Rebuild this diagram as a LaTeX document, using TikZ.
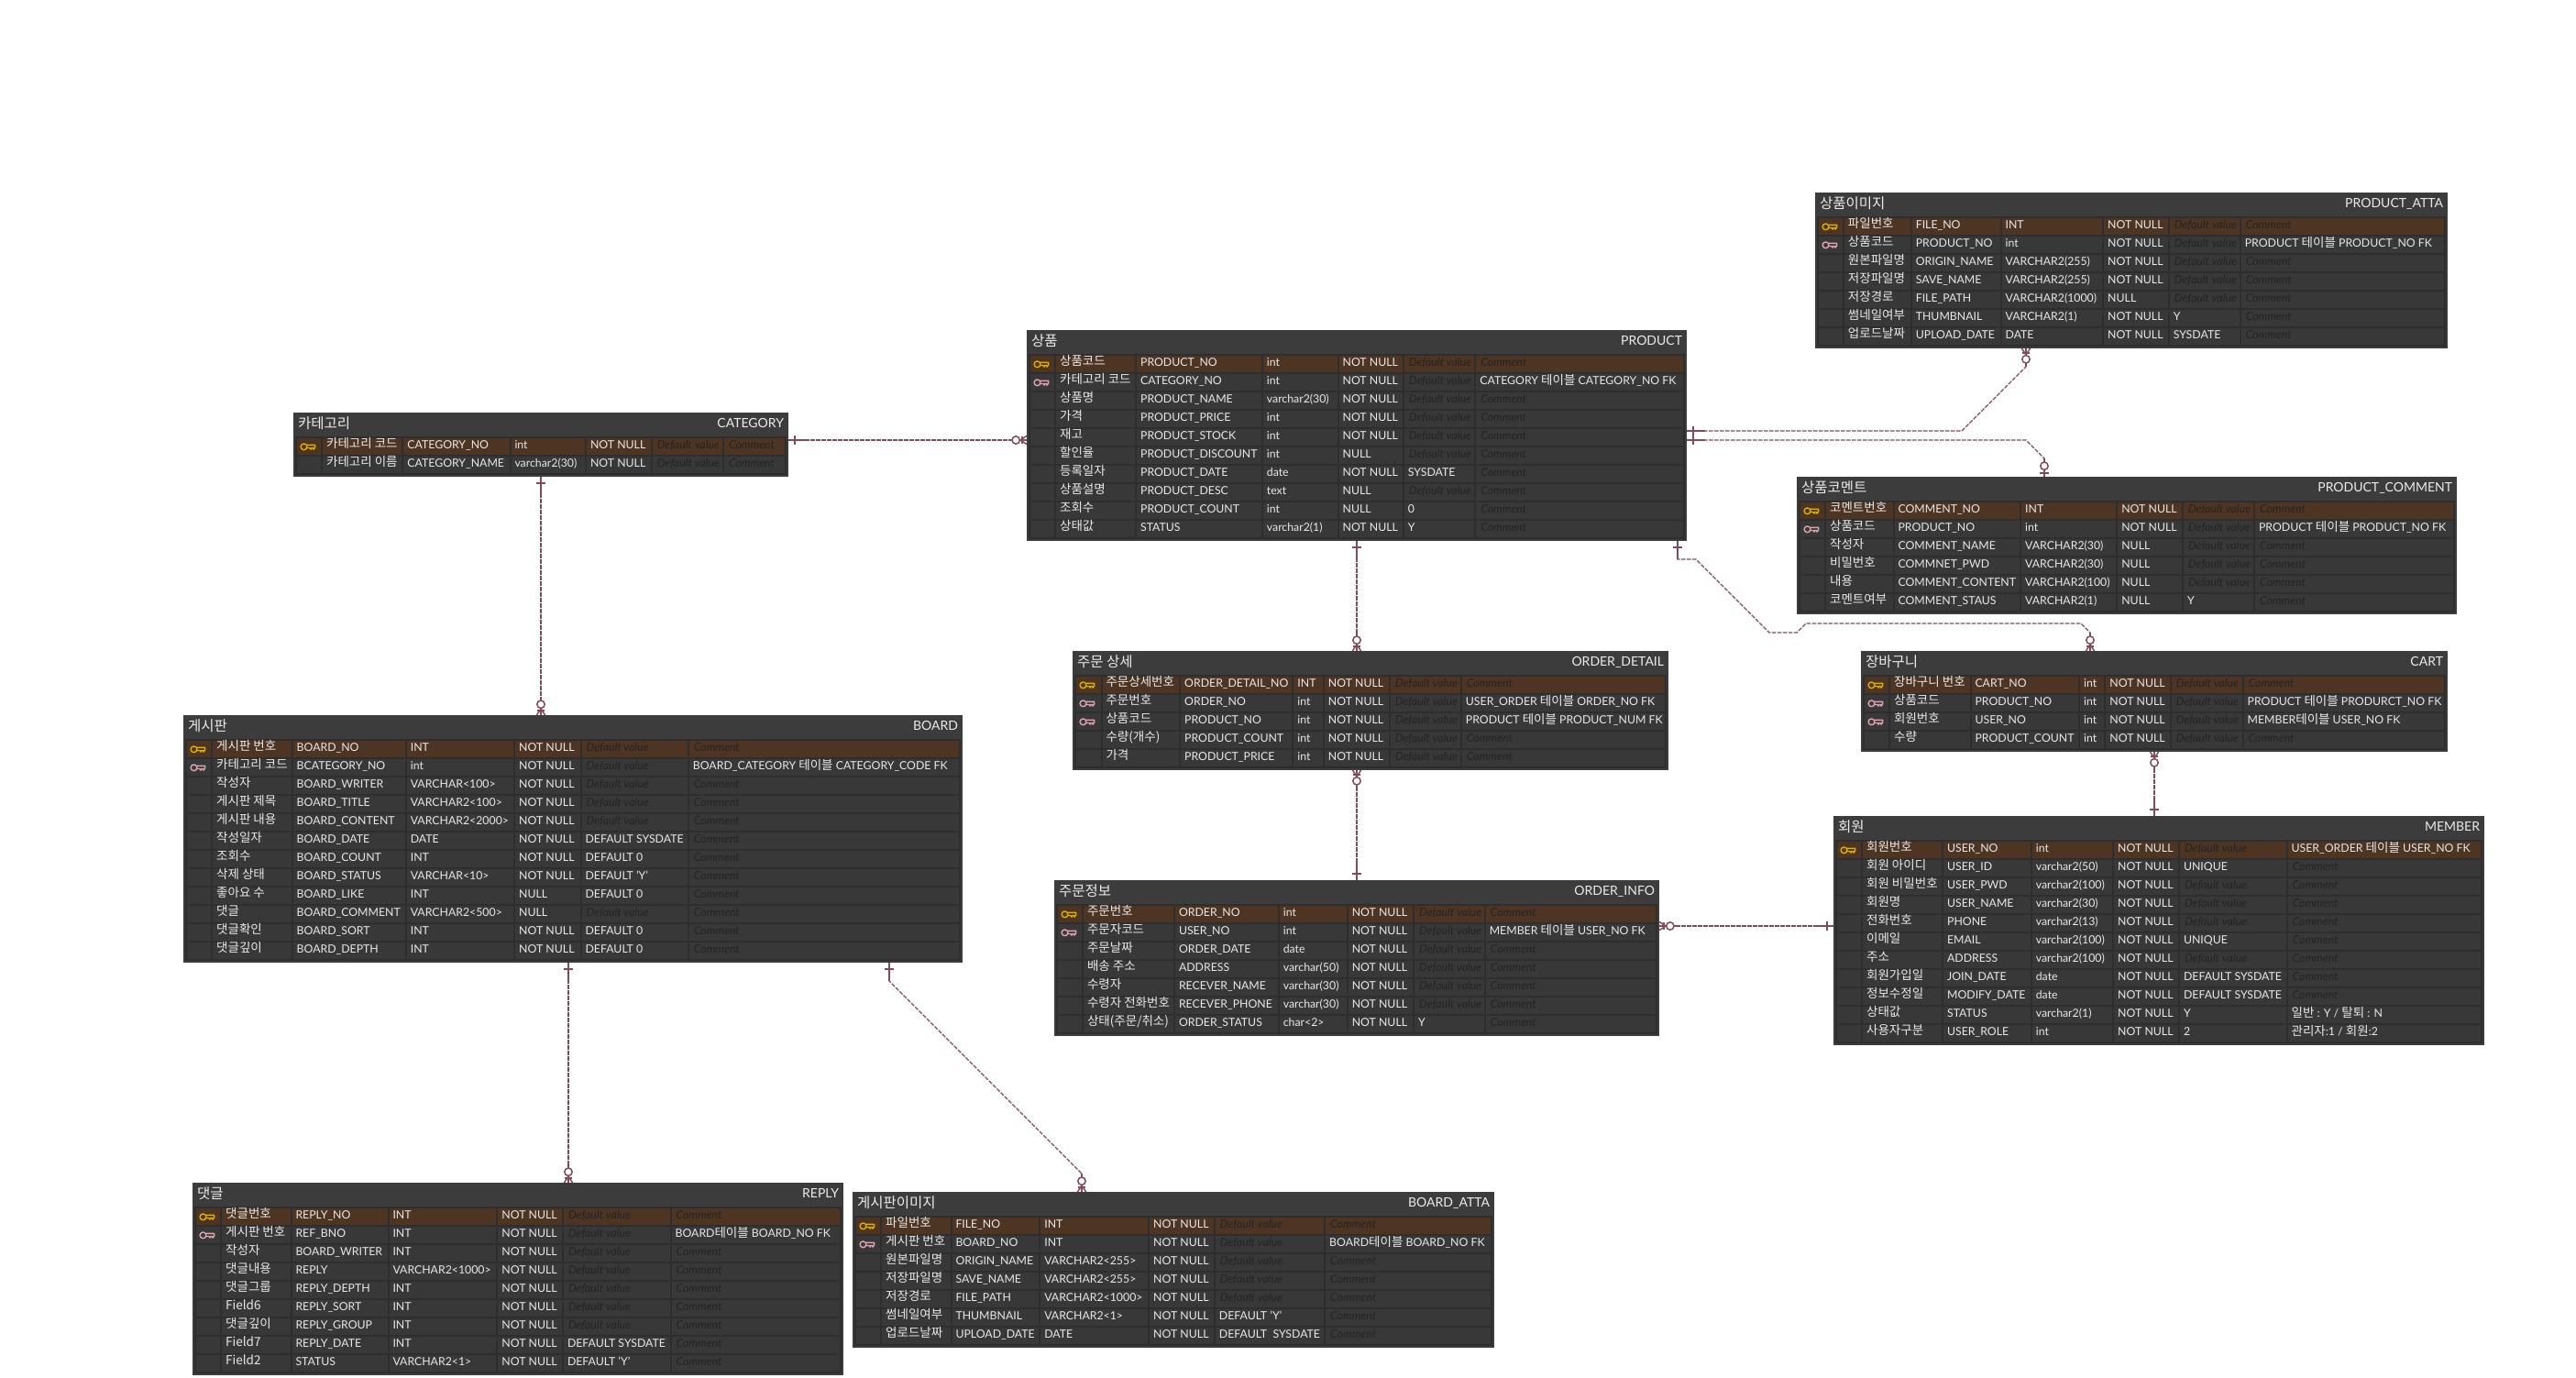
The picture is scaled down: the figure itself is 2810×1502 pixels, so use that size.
\documentclass[tikz,border=0pt]{standalone}
\usepackage{fontspec}
\setmainfont{Lato}
\newfontfamily\krf{Noto Sans CJK KR}
\newcommand\K[1]{{\krf\fontsize{13.5}{15}\selectfont #1}}
\definecolor{erOuter}{HTML}{3C3C3C}
\definecolor{erFrame}{HTML}{2E2E2E}
\definecolor{erCell}{HTML}{383838}
\definecolor{erPk}{HTML}{4E3422}
\definecolor{erText}{HTML}{E8E8E8}
\definecolor{erDim}{HTML}{242424}
\definecolor{erLink}{HTML}{84495A}
\definecolor{erGold}{HTML}{DDB000}
\definecolor{erPink}{HTML}{DDA4AE}
\tikzset{
  tablebox/.style={rectangle,fill=erOuter,inner sep=0pt,outer sep=0pt,anchor=north west},
  celltxt/.style={anchor=base west,inner sep=0pt,outer sep=0pt,text=erText,font=\fontsize{12.3}{15}\selectfont},
  kotxt/.style={celltxt,font=\krf\fontsize{13.5}{15}\selectfont},
  dimtxt/.style={celltxt,text=erDim,font=\itshape\fontsize{12.3}{15}\selectfont},
  titleko/.style={anchor=base west,inner sep=0pt,outer sep=0pt,text=white!92!black,font=\krf\fontsize{15.5}{17}\selectfont},
  titleen/.style={anchor=base east,inner sep=0pt,outer sep=0pt,text=white!92!black,font=\fontsize{14}{16}\selectfont},
  rel/.style={draw=erLink,line width=1.25pt,dash pattern=on 4.5pt off 1.5pt,line join=miter},
  relsolid/.style={draw=erLink,line width=1.5pt},
}
\newcount\errow
\def\erparse#1,#2,#3,#4,#5,#6\relax{\def\erA{#1}\def\erB{#2}\def\erC{#3}\def\erD{#4}\def\erE{#5}\def\erF{#6}}
\newcommand\ertbl[8]{%
  \def\erid{#1}\def\erXa{#2}\def\erYa{#3}\def\erXb{#4}\errow=0
  \erparse#8\relax
  \pgfmathsetmacro\erW{#4-#2}\pgfmathsetmacro\erH{30+20*#5}%
  \pgfmathsetmacro\erIn{26+20*#5+2}%
  \node[tablebox,minimum width=\erW pt,minimum height=\erH pt] (#1) at (#2,#3) {};
  \fill[erFrame] ($(#1.north west)+(2,26)$) rectangle ($(#1.north east)+(-2,26+\erIn-26)$);
  \node[titleko] (#1-ko) at ($(#1.north west)+(5,17)$) {#6};
  \node[titleen] (#1-en) at ($(#1.north east)+(-5,16.5)$) {#7};
}
\newcommand\erkey[3]{%
  \begin{scope}[shift={(#2,#3)}]
    \draw[#1,line width=1.4pt,line join=round] (3.5,0) circle (3.4);
    \draw[#1,line width=1.4pt,line join=round] (6.8,-2)--(15.6,-2)--(15.6,0.8)--(14,2.8)--(13.4,1.2)--(11.8,1.2)--(11.2,2.8)--(9.8,1.2)--(6.9,1.2);
  \end{scope}%
}
\newcommand\ercell[3]{\fill[#1] (#2,\erY) rectangle (#3,\erY+18.3);}
\newcommand\ertrow[7]{%
  \pgfmathsetmacro\erY{\erYa+27.7+20*\the\errow}%
  \pgfmathsetmacro\erYb{\erY+11.4}\pgfmathsetmacro\erYk{\erY+10.8}\pgfmathsetmacro\erYc{\erY+9.6}%
  \if#1P\def\ercol{erPk}\else\def\ercol{erCell}\fi
  \pgfmathsetmacro\erAa{\erA-2}\pgfmathsetmacro\erBa{\erB-2}\pgfmathsetmacro\erCa{\erC-2}%
  \pgfmathsetmacro\erDa{\erD-2}\pgfmathsetmacro\erEa{\erE-2}\pgfmathsetmacro\erFa{\erF-2}%
  \ercell{\ercol}{\erXa+3.7}{\erAa}\ercell{\ercol}{\erA}{\erBa}\ercell{\ercol}{\erB}{\erCa}%
  \ercell{\ercol}{\erC}{\erDa}\ercell{\ercol}{\erD}{\erEa}\ercell{\ercol}{\erE}{\erFa}%
  \ercell{\ercol}{\erF}{\erXb-3.7}%
  \pgfmathsetmacro\erKx{\erXa+8}%
  \if#1P\erkey{erGold}{\erKx}{\erYc}\fi
  \if#1F\erkey{erPink}{\erKx}{\erYc}\fi
  \node[kotxt] (\erid-\the\errow-a) at (\erA+4,\erYk) {#2};
  \node[celltxt] (\erid-\the\errow-b) at (\erB+4,\erYb) {#3};
  \node[celltxt] (\erid-\the\errow-c) at (\erC+4,\erYb) {#4};
  \node[celltxt] (\erid-\the\errow-d) at (\erD+4,\erYb) {#5};
  \def\ertmp{#6}%
  \ifx\ertmp\empty\node[dimtxt] (\erid-\the\errow-e) at (\erE+5,\erYb) {Default value};
  \else\node[celltxt] (\erid-\the\errow-e) at (\erE+4,\erYb) {#6};\fi
  \def\ertmp{#7}%
  \ifx\ertmp\empty\node[dimtxt] (\erid-\the\errow-f) at (\erF+5,\erYb) {Comment};
  \else\node[celltxt] (\erid-\the\errow-f) at (\erF+4,\erYb) {#7};\fi
  \global\advance\errow by 1\relax
}
% end marks: x axis runs away from the table
\newcommand\markone[2]{%
  \begin{scope}[shift={#1},rotate=#2]
    \draw[relsolid] (0,0)--(20,0);\draw[relsolid] (7,-5)--(7,5);
  \end{scope}%
}
\newcommand\markmany[2]{%
  \begin{scope}[shift={#1},rotate=#2]
    \draw[relsolid] (0,0)--(20,0);
    \draw[relsolid] (0,-4.6)--(7,0)--(0,4.6);\draw[relsolid] (5,-4)--(5,4);
    \draw[relsolid,fill=white] (11.8,0) circle (4.2);
  \end{scope}%
}
\newcommand\markzone[2]{%
  \begin{scope}[shift={#1},rotate=#2]
    \draw[relsolid] (0,0)--(20,0);\draw[relsolid] (4,-5)--(4,5);
    \draw[relsolid,fill=white] (11.8,0) circle (4.2);
  \end{scope}%
}
\usetikzlibrary{calc}
\begin{document}
\begin{tikzpicture}[x=1pt,y=-1pt]
\useasboundingbox[fill=white] (0,0) rectangle (2810,1502);

\ertbl{ATTA}{1980}{210}{2670}{7}{상품이미지}{PRODUCT\_ATTA}{2011.9,2085.8,2183.6,2295.2,2366.8,2444.8}
\ertrow{P}{파일번호}{FILE\_NO}{INT}{NOT NULL}{}{}
\ertrow{F}{상품코드}{PRODUCT\_NO}{int}{NOT NULL}{}{PRODUCT \K{테이블} PRODUCT\_NO FK}
\ertrow{N}{원본파일명}{ORIGIN\_NAME}{VARCHAR2(255)}{NOT NULL}{}{}
\ertrow{N}{저장파일명}{SAVE\_NAME}{VARCHAR2(255)}{NOT NULL}{}{}
\ertrow{N}{저장경로}{FILE\_PATH}{VARCHAR2(1000)}{NULL}{}{}
\ertrow{N}{썸네일여부}{THUMBNAIL}{VARCHAR2(1)}{NOT NULL}{Y}{}
\ertrow{N}{업로드날짜}{UPLOAD\_DATE}{DATE}{NOT NULL}{SYSDATE}{}

\ertbl{PRODUCT}{1120}{360}{1840}{10}{상품}{PRODUCT}{1152.1,1240.1,1377.9,1460.6,1531.9,1610.3}
\ertrow{P}{상품코드}{PRODUCT\_NO}{int}{NOT NULL}{}{}
\ertrow{F}{카테고리 코드}{CATEGORY\_NO}{int}{NOT NULL}{}{CATEGORY \K{테이블} CATEGORY\_NO FK}
\ertrow{N}{상품명}{PRODUCT\_NAME}{varchar2(30)}{NOT NULL}{}{}
\ertrow{N}{가격}{PRODUCT\_PRICE}{int}{NOT NULL}{}{}
\ertrow{N}{재고}{PRODUCT\_STOCK}{int}{NOT NULL}{}{}
\ertrow{N}{할인율}{PRODUCT\_DISCOUNT}{int}{NULL}{}{}
\ertrow{N}{등록일자}{PRODUCT\_DATE}{date}{NOT NULL}{SYSDATE}{}
\ertrow{N}{상품설명}{PRODUCT\_DESC}{text}{NULL}{}{}
\ertrow{N}{조회수}{PRODUCT\_COUNT}{int}{NULL}{0}{}
\ertrow{N}{상태값}{STATUS}{varchar2(1)}{NOT NULL}{Y}{}

\ertbl{CATEGORY}{320}{450}{860}{2}{카테고리}{CATEGORY}{352.1,440.4,557.5,640,711.8,790}
\ertrow{P}{카테고리 코드}{CATEGORY\_NO}{int}{NOT NULL}{}{}
\ertrow{N}{카테고리 이름}{CATEGORY\_NAME}{varchar2(30)}{NOT NULL}{}{}

\ertbl{COMMENT}{1960}{520}{2680}{6}{상품코멘트}{PRODUCT\_COMMENT}{1992.1,2066.5,2205.2,2310.3,2382,2460}
\ertrow{P}{코멘트번호}{COMMENT\_NO}{INT}{NOT NULL}{}{}
\ertrow{F}{상품코드}{PRODUCT\_NO}{int}{NOT NULL}{}{PRODUCT \K{테이블} PRODUCT\_NO FK}
\ertrow{N}{작성자}{COMMENT\_NAME}{VARCHAR2(30)}{NULL}{}{}
\ertrow{N}{비밀번호}{COMMNET\_PWD}{VARCHAR2(30)}{NULL}{}{}
\ertrow{N}{내용}{COMMENT\_CONTENT}{VARCHAR2(100)}{NULL}{}{}
\ertrow{N}{코멘트여부}{COMMENT\_STAUS}{VARCHAR2(1)}{NULL}{Y}{}

\ertbl{DETAIL}{1170}{710}{1820}{5}{주문 상세}{ORDER\_DETAIL}{1202.5,1288.2,1411.4,1444.9,1516.8,1594.9}
\ertrow{P}{주문상세번호}{ORDER\_DETAIL\_NO}{INT}{NOT NULL}{}{}
\ertrow{F}{주문번호}{ORDER\_NO}{int}{NOT NULL}{}{USER\_ORDER \K{테이블} ORDER\_NO FK}
\ertrow{F}{상품코드}{PRODUCT\_NO}{int}{NOT NULL}{}{PRODUCT \K{테이블} PRODUCT\_NUM FK}
\ertrow{N}{수량(개수)}{PRODUCT\_COUNT}{int}{NOT NULL}{}{}
\ertrow{N}{가격}{PRODUCT\_PRICE}{int}{NOT NULL}{}{}

\ertbl{CART}{2030}{710}{2670}{4}{장바구니}{CART}{2062.1,2150.5,2269.2,2297.4,2368.9,2447.6}
\ertrow{P}{장바구니 번호}{CART\_NO}{int}{NOT NULL}{}{}
\ertrow{F}{상품코드}{PRODUCT\_NO}{int}{NOT NULL}{}{PRODUCT \K{테이블} PRODURCT\_NO FK}
\ertrow{F}{회원번호}{USER\_NO}{int}{NOT NULL}{}{MEMBER\K{테이블} USER\_NO FK}
\ertrow{N}{수량}{PRODUCT\_COUNT}{int}{NOT NULL}{}{}

\ertbl{BOARD}{200}{780}{1050}{12}{게시판}{BOARD}{232.2,319.7,443.8,562.2,634.6,751.9}
\ertrow{P}{게시판 번호}{BOARD\_NO}{INT}{NOT NULL}{}{}
\ertrow{F}{카테고리 코드}{BCATEGORY\_NO}{int}{NOT NULL}{}{BOARD\_CATEGORY \K{테이블} CATEGORY\_CODE FK}
\ertrow{N}{작성자}{BOARD\_WRITER}{VARCHAR<100>}{NOT NULL}{}{}
\ertrow{N}{게시판 제목}{BOARD\_TITLE}{VARCHAR2<100>}{NOT NULL}{}{}
\ertrow{N}{게시판 내용}{BOARD\_CONTENT}{VARCHAR2<2000>}{NOT NULL}{}{}
\ertrow{N}{작성일자}{BOARD\_DATE}{DATE}{NOT NULL}{DEFAULT SYSDATE}{}
\ertrow{N}{조회수}{BOARD\_COUNT}{INT}{NOT NULL}{DEFAULT 0}{}
\ertrow{N}{삭제 상태}{BOARD\_STATUS}{VARCHAR<10>}{NOT NULL}{DEFAULT 'Y'}{}
\ertrow{N}{좋아요 수}{BOARD\_LIKE}{INT}{NULL}{DEFAULT 0}{}
\ertrow{N}{댓글}{BOARD\_COMMENT}{VARCHAR2<500>}{NULL}{}{}
\ertrow{N}{댓글확인}{BOARD\_SORT}{INT}{NOT NULL}{DEFAULT 0}{}
\ertrow{N}{댓글깊이}{BOARD\_DEPTH}{INT}{NOT NULL}{DEFAULT 0}{}

\ertbl{MEMBER}{2000}{890}{2710}{11}{회원}{MEMBER}{2032.1,2120.1,2216.8,2306.2,2378,2495.6}
\ertrow{P}{회원번호}{USER\_NO}{int}{NOT NULL}{}{USER\_ORDER \K{테이블} USER\_NO FK}
\ertrow{N}{회원 아이디}{USER\_ID}{varchar2(50)}{NOT NULL}{UNIQUE}{}
\ertrow{N}{회원 비밀번호}{USER\_PWD}{varchar2(100)}{NOT NULL}{}{}
\ertrow{N}{회원명}{USER\_NAME}{varchar2(30)}{NOT NULL}{}{}
\ertrow{N}{전화번호}{PHONE}{varchar2(13)}{NOT NULL}{}{}
\ertrow{N}{이메일}{EMAIL}{varchar2(100)}{NOT NULL}{UNIQUE}{}
\ertrow{N}{주소}{ADDRESS}{varchar2(100)}{NOT NULL}{}{}
\ertrow{N}{회원가입일}{JOIN\_DATE}{date}{NOT NULL}{DEFAULT SYSDATE}{}
\ertrow{N}{정보수정일}{MODIFY\_DATE}{date}{NOT NULL}{DEFAULT SYSDATE}{}
\ertrow{N}{상태값}{STATUS}{varchar2(1)}{NOT NULL}{Y}{\K{일반} : Y / \K{탈퇴} : N}
\ertrow{N}{사용자구분}{USER\_ROLE}{int}{NOT NULL}{2}{\K{관리자}:1 / \K{회원}:2}

\ertbl{ORDER}{1150}{960}{1810}{7}{주문정보}{ORDER\_INFO}{1182,1282,1395.8,1470.8,1543.1,1620.8}
\ertrow{P}{주문번호}{ORDER\_NO}{int}{NOT NULL}{}{}
\ertrow{F}{주문자코드}{USER\_NO}{int}{NOT NULL}{}{MEMBER \K{테이블} USER\_NO FK}
\ertrow{N}{주문날짜}{ORDER\_DATE}{date}{NOT NULL}{}{}
\ertrow{N}{배송 주소}{ADDRESS}{varchar(50)}{NOT NULL}{}{}
\ertrow{N}{수령자}{RECEVER\_NAME}{varchar(30)}{NOT NULL}{}{}
\ertrow{N}{수령자 전화번호}{RECEVER\_PHONE}{varchar(30)}{NOT NULL}{}{}
\ertrow{N}{상태(주문/취소)}{ORDER\_STATUS}{char<2>}{NOT NULL}{Y}{}

\ertbl{REPLY}{210}{1290}{920}{9}{댓글}{REPLY}{242.2,318.5,424.5,543.4,615,732.6}
\ertrow{P}{댓글번호}{REPLY\_NO}{INT}{NOT NULL}{}{}
\ertrow{F}{게시판 번호}{REF\_BNO}{INT}{NOT NULL}{}{BOARD\K{테이블} BOARD\_NO FK}
\ertrow{N}{작성자}{BOARD\_WRITER}{INT}{NOT NULL}{}{}
\ertrow{N}{댓글내용}{REPLY}{VARCHAR2<1000>}{NOT NULL}{}{}
\ertrow{N}{댓글그룹}{REPLY\_DEPTH}{INT}{NOT NULL}{}{}
\ertrow{N}{Field6}{REPLY\_SORT}{INT}{NOT NULL}{}{}
\ertrow{N}{댓글깊이}{REPLY\_GROUP}{INT}{NOT NULL}{}{}
\ertrow{N}{Field7}{REPLY\_DATE}{INT}{NOT NULL}{DEFAULT SYSDATE}{}
\ertrow{N}{Field2}{STATUS}{VARCHAR2<1>}{NOT NULL}{DEFAULT 'Y'}{}

\ertbl{BATTA}{930}{1300}{1630}{7}{게시판이미지}{BOARD\_ATTA}{962.2,1038.5,1135.3,1254.2,1325.9,1446.2}
\ertrow{P}{파일번호}{FILE\_NO}{INT}{NOT NULL}{}{}
\ertrow{F}{게시판 번호}{BOARD\_NO}{INT}{NOT NULL}{}{BOARD\K{테이블} BOARD\_NO FK}
\ertrow{N}{원본파일명}{ORIGIN\_NAME}{VARCHAR2<255>}{NOT NULL}{}{}
\ertrow{N}{저장파일명}{SAVE\_NAME}{VARCHAR2<255>}{NOT NULL}{}{}
\ertrow{N}{저장경로}{FILE\_PATH}{VARCHAR2<1000>}{NOT NULL}{}{}
\ertrow{N}{썸네일여부}{THUMBNAIL}{VARCHAR2<1>}{NOT NULL}{DEFAULT 'Y'}{}
\ertrow{N}{업로드날짜}{UPLOAD\_DATE}{DATE}{NOT NULL}{DEFAULT\ \ SYSDATE}{}

% connectors
\draw[rel] ([yshift=-30pt]CATEGORY.north east) -- ([yshift=-120pt]PRODUCT.north west);
\draw[rel] ([xshift=270pt]CATEGORY.south west) -- ([xshift=390pt]BOARD.north west);
\draw[rel] ([yshift=-110pt]PRODUCT.north east) -- (2140,470) -- (2210,400) -- ([xshift=230pt]ATTA.south west);
\draw[rel] ([yshift=-120pt]PRODUCT.north east) -- (2210,480) -- (2230,500) -- ([xshift=270pt]COMMENT.north west);
\draw[rel] ([xshift=360pt]PRODUCT.south west) -- ([xshift=310pt]DETAIL.north west);
\draw[rel] ([xshift=710pt]PRODUCT.south west) -- ++(0,20) -- (1850,610) -- (1930,690) -- (1960,690) -- (1970,680) -- (2270,680) -- (2280,690) -- ([xshift=250pt]CART.north west);
\draw[rel] ([xshift=310pt]DETAIL.south west) -- ([xshift=330pt]ORDER.north west);
\draw[rel] ([yshift=-50pt]ORDER.north east) -- ([yshift=-120pt]MEMBER.north west);
\draw[rel] ([xshift=320pt]CART.south west) -- ([xshift=350pt]MEMBER.north west);
\draw[rel] ([xshift=420pt]BOARD.south west) -- ([xshift=410pt]REPLY.north west);
\draw[rel] ([xshift=770pt]BOARD.south west) -- ++(0,20) -- (1180,1280) -- ([xshift=250pt]BATTA.north west);
% end marks
\markone{(860,480)}{0}\markmany{(1120,480)}{180}
\markone{(590,520)}{-90}\markmany{(590,780)}{90}
\markone{(1840,470)}{0}\markmany{(2210,380)}{-90}
\markone{(1840,480)}{0}\markzone{(2230,520)}{90}
\markone{(1480,590)}{-90}\markmany{(1480,710)}{90}
\markone{(1830,590)}{-90}\markmany{(2280,710)}{90}
\markmany{(1480,840)}{-90}\markone{(1480,960)}{90}
\markmany{(1810,1010)}{0}\markone{(2000,1010)}{180}
\markmany{(2350,820)}{-90}\markone{(2350,890)}{90}
\markone{(620,1050)}{-90}\markmany{(620,1290)}{90}
\markone{(970,1050)}{-90}\markmany{(1180,1300)}{90}
\end{tikzpicture}
\end{document}
